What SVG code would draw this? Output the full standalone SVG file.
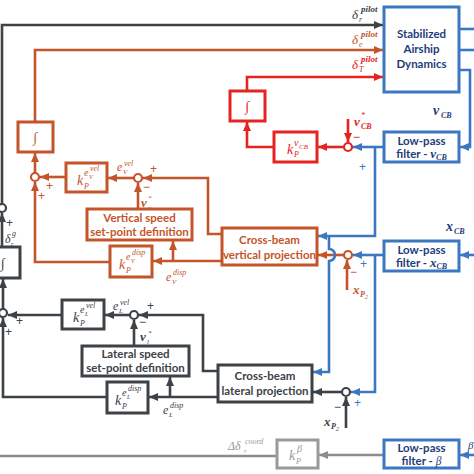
<svg xmlns="http://www.w3.org/2000/svg" width="474" height="474" viewBox="0 0 474 474">
<defs>
<marker id="aD" markerUnits="userSpaceOnUse" markerWidth="9" markerHeight="8" refX="9" refY="4" orient="auto"><path d="M0,0 L9,4 L0,8 z" fill="#3d4247"/></marker>
<marker id="aO" markerUnits="userSpaceOnUse" markerWidth="9" markerHeight="8" refX="9" refY="4" orient="auto"><path d="M0,0 L9,4 L0,8 z" fill="#c4552b"/></marker>
<marker id="aR" markerUnits="userSpaceOnUse" markerWidth="9" markerHeight="8" refX="9" refY="4" orient="auto"><path d="M0,0 L9,4 L0,8 z" fill="#e52421"/></marker>
<marker id="aB" markerUnits="userSpaceOnUse" markerWidth="9" markerHeight="8" refX="9" refY="4" orient="auto"><path d="M0,0 L9,4 L0,8 z" fill="#3c78c2"/></marker>
<marker id="aG" markerUnits="userSpaceOnUse" markerWidth="9" markerHeight="8" refX="9" refY="4" orient="auto"><path d="M0,0 L9,4 L0,8 z" fill="#8c8c8c"/></marker>
</defs>
<style>
.box{fill:#fff;stroke-width:3}
.ln{fill:none;stroke-width:2.6}
.sum{fill:#fff;stroke-width:2.2}
.D{stroke:#3d4247}.O{stroke:#c4552b}.R{stroke:#e52421}.B{stroke:#3c78c2}.G{stroke:#9a9a9a}
.bt{font-family:"Lato","Open Sans",sans-serif;font-weight:bold;font-size:11.5px;text-anchor:middle}
.m{font-family:"Liberation Serif",serif;font-style:italic}
.pl{font-family:"Liberation Sans",sans-serif;font-size:12px}
.tD{fill:#3d4247}.tO{fill:#c4552b}.tR{fill:#e52421}.tB{fill:#1f3d7a}.tBl{fill:#3c78c2}.tG{fill:#9a9a9a}
</style>

<g id="connectors">
<path class="ln D" d="M2,204 V25 H383" marker-end="url(#aD)"/>
<path class="ln D" d="M2,247 V213" marker-end="url(#aD)"/>
<path class="ln D" d="M3,309 V279" marker-end="url(#aD)"/>
<path class="ln D" d="M62,315 H8" marker-end="url(#aD)"/>
<path class="ln D" d="M107,397 H3 V318" marker-end="url(#aD)"/>
<path class="ln D" d="M218,397 H149" marker-end="url(#aD)"/>
<path class="ln D" d="M170,397 V377" marker-end="url(#aD)"/>
<path class="ln D" d="M134,346 V320" marker-end="url(#aD)"/>
<path class="ln D" d="M130,315 H105" marker-end="url(#aD)"/>
<path class="ln D" d="M218,371 H203 V315 H139" marker-end="url(#aD)"/>
<path class="ln D" d="M342,392 H313" marker-end="url(#aD)"/>
<path class="ln D" d="M346,428 V397" marker-end="url(#aD)"/>
<path class="ln O" d="M35,122 V50 H383" marker-end="url(#aO)"/>
<path class="ln O" d="M35,173 V153" marker-end="url(#aO)"/>
<path class="ln O" d="M66,177 H40" marker-end="url(#aO)"/>
<path class="ln O" d="M110,262 H35 V182" marker-end="url(#aO)"/>
<path class="ln O" d="M222,261 H153" marker-end="url(#aO)"/>
<path class="ln O" d="M173,261 V241" marker-end="url(#aO)"/>
<path class="ln O" d="M138,209 V183" marker-end="url(#aO)"/>
<path class="ln O" d="M134,178 H108" marker-end="url(#aO)"/>
<path class="ln O" d="M222,234 H208 V178 H143" marker-end="url(#aO)"/>
<path class="ln O" d="M344,255 H318" marker-end="url(#aO)"/>
<path class="ln O" d="M347,290 V260" marker-end="url(#aO)"/>
<path class="ln R" d="M247,91 V77 H383" marker-end="url(#aR)"/>
<path class="ln R" d="M274,147 H247 V122" marker-end="url(#aR)"/>
<path class="ln R" d="M344,147 H318" marker-end="url(#aR)"/>
<path class="ln R" d="M348,119 V142" marker-end="url(#aR)"/>
<path class="ln B" d="M459,29 H474"/>
<path class="ln B" d="M459,50 H474"/>
<path class="ln B" d="M459,70 H470 V147 H460" marker-end="url(#aB)"/>
<path class="ln B" d="M384,147 H353" marker-end="url(#aB)"/>
<path class="ln B" d="M375,147 V236 H318" marker-end="url(#aB)"/>
<path class="ln B" d="M329,236 V249 A6,6 0 0 1 329,261 V372 H313" marker-end="url(#aB)"/>
<path class="ln B" d="M474,255 H460" marker-end="url(#aB)"/>
<path class="ln B" d="M384,255 H353" marker-end="url(#aB)"/>
<path class="ln B" d="M375,255 V392 H351" marker-end="url(#aB)"/>
<path class="ln B" d="M474,455 H460" marker-end="url(#aB)"/>
<path class="ln" stroke="#8c8c8c" d="M384,455 H319" marker-end="url(#aG)"/>
<path class="ln" stroke="#8c8c8c" d="M277,456 H0"/>
</g>

<g id="sum-rudder"><circle class="sum D" cx="2" cy="208" r="4"/></g>
<g id="sum-lat"><circle class="sum D" cx="3" cy="313" r="4"/></g>
<g id="sum-latvel"><circle class="sum D" cx="134" cy="315" r="4"/></g>
<g id="sum-latdisp"><circle class="sum D" cx="346" cy="392" r="4"/></g>
<g id="sum-vert"><circle class="sum O" cx="35" cy="177" r="4"/></g>
<g id="sum-vertvel"><circle class="sum O" cx="138" cy="178" r="4"/></g>
<g id="sum-vertdisp"><circle class="sum O" cx="348" cy="255" r="4"/></g>
<g id="sum-vcb"><circle class="sum R" cx="348" cy="147" r="4"/></g>

<g id="dynamics">
<rect class="box B" x="384" y="7" width="75" height="85"/>
<text class="bt tB" x="421.5" y="38">Stabilized</text>
<text class="bt tB" x="421.5" y="53">Airship</text>
<text class="bt tB" x="421.5" y="68">Dynamics</text>
</g>
<g id="lpf-vcb">
<rect class="box B" x="384" y="132" width="75" height="30"/>
<text class="bt tB" x="421.5" y="145">Low-pass</text>
<text class="bt tB" x="421.5" y="158">filter - <tspan class="m" font-size="13">v<tspan font-size="8" dy="2">CB</tspan></tspan></text>
</g>
<g id="lpf-xcb">
<rect class="box B" x="384" y="241" width="75" height="30"/>
<text class="bt tB" x="421.5" y="254">Low-pass</text>
<text class="bt tB" x="421.5" y="267">filter - <tspan class="m" font-size="13">x<tspan font-size="8" dy="2">CB</tspan></tspan></text>
</g>
<g id="lpf-beta">
<rect class="box B" x="384" y="440" width="75" height="28"/>
<text class="bt tB" x="421.5" y="452">Low-pass</text>
<text class="bt tB" x="421.5" y="465">filter - <tspan class="m" font-weight="normal">β</tspan></text>
</g>

<g id="int-red">
<rect class="box R" x="230" y="91" width="35" height="30"/>
<text class="m tR" x="247.5" y="111" font-size="14" text-anchor="middle">∫</text>
</g>
<g id="kp-vcb">
<rect class="box R" x="274" y="132" width="43" height="30"/>
<text class="m tR" x="287" y="154" font-size="14">k</text>
<text class="m tR" x="294" y="157" font-size="8">P</text>
<text class="m tR" x="294" y="146" font-size="10">v</text>
<text class="m tR" x="299" y="149" font-size="7">CB</text>
</g>

<g id="int-orange">
<rect class="box O" x="18" y="122" width="35" height="30"/>
<text class="m tO" x="35.5" y="142" font-size="14" text-anchor="middle">∫</text>
</g>
<g id="kp-ev-vel">
<rect class="box O" x="66" y="163" width="41" height="29"/>
<text class="m tO" x="77" y="185" font-size="14">k</text>
<text class="m tO" x="84" y="189" font-size="8">P</text>
<text class="m tO" x="84" y="176" font-size="10">e</text>
<text class="m tO" x="89" y="179" font-size="6">V</text>
<text class="m tO" x="90" y="171" font-size="8">vel</text>
</g>
<g id="kp-ev-disp">
<rect class="box O" x="110" y="246" width="42" height="31"/>
<text class="m tO" x="119" y="269" font-size="14">k</text>
<text class="m tO" x="126" y="273" font-size="8">P</text>
<text class="m tO" x="126" y="260" font-size="10">e</text>
<text class="m tO" x="131" y="263" font-size="6">V</text>
<text class="m tO" x="132" y="255" font-size="8">disp</text>
</g>
<g id="vert-setpoint">
<rect class="box O" x="87" y="209" width="105" height="31"/>
<text class="bt tO" x="139.5" y="222">Vertical speed</text>
<text class="bt tO" x="139.5" y="236">set-point definition</text>
</g>
<g id="vert-proj">
<rect class="box O" x="222" y="228" width="95" height="37"/>
<text class="bt tO" x="269.5" y="244">Cross-beam</text>
<text class="bt tO" x="269.5" y="259">vertical projection</text>
</g>

<g id="int-dark">
<rect class="box D" x="-20" y="247" width="40" height="31"/>
<text class="m tD" x="3" y="268" font-size="14" text-anchor="middle">∫</text>
</g>
<g id="kp-el-vel">
<rect class="box D" x="62" y="300" width="42" height="29"/>
<text class="m tD" x="73" y="322" font-size="14">k</text>
<text class="m tD" x="80" y="326" font-size="8">P</text>
<text class="m tD" x="80" y="313" font-size="10">e</text>
<text class="m tD" x="85" y="316" font-size="6">L</text>
<text class="m tD" x="86" y="308" font-size="8">vel</text>
</g>
<g id="kp-el-disp">
<rect class="box D" x="107" y="382" width="41" height="31"/>
<text class="m tD" x="115" y="405" font-size="14">k</text>
<text class="m tD" x="122" y="409" font-size="8">P</text>
<text class="m tD" x="122" y="396" font-size="10">e</text>
<text class="m tD" x="127" y="399" font-size="6">L</text>
<text class="m tD" x="128" y="391" font-size="8">disp</text>
</g>
<g id="lat-setpoint">
<rect class="box D" x="82" y="346" width="107" height="30"/>
<text class="bt tD" x="135.5" y="358">Lateral speed</text>
<text class="bt tD" x="135.5" y="372">set-point definition</text>
</g>
<g id="lat-proj">
<rect class="box D" x="218" y="365" width="94" height="37"/>
<text class="bt tD" x="265" y="380">Cross-beam</text>
<text class="bt tD" x="265" y="395">lateral projection</text>
</g>

<g id="kp-beta">
<rect class="box G" x="277" y="440" width="41" height="28"/>
<text class="m tG" x="289" y="460" font-size="14">k</text>
<text class="m tG" x="296" y="464" font-size="8">P</text>
<text class="m tG" x="297" y="452" font-size="10">β</text>
</g>

<g id="labels">
<text class="m tD" x="352" y="19" font-size="13">δ</text><text class="m tD" x="359" y="22" font-size="8">r</text><text class="m tD" x="361" y="12" font-size="9" font-weight="bold">pilot</text>
<text class="m tO" x="352" y="44" font-size="13">δ</text><text class="m tO" x="359" y="47" font-size="8">e</text><text class="m tO" x="361" y="37" font-size="9" font-weight="bold">pilot</text>
<text class="m tR" x="352" y="69" font-size="13">δ</text><text class="m tR" x="359" y="72" font-size="8">T</text><text class="m tR" x="361" y="62" font-size="9" font-weight="bold">pilot</text>

<text class="m tB" x="433" y="115" font-size="14" font-weight="bold">v</text><text class="m tB" x="441" y="118" font-size="8" font-weight="bold">CB</text>
<text class="m tB" x="446" y="231" font-size="14" font-weight="bold">x</text><text class="m tB" x="454" y="234" font-size="8" font-weight="bold">CB</text>
<text class="m tB" x="468" y="449" font-size="11">β</text>

<text class="m tR" x="354" y="126" font-size="13" font-weight="bold">v</text><text class="m tR" x="361" y="118" font-size="8">*</text><text class="m tR" x="361" y="129" font-size="8" font-weight="bold">CB</text>
<text class="pl tR" x="353" y="141">−</text>
<text class="pl tBl" x="359" y="171">+</text>

<text class="pl tBl" x="360" y="268">+</text>
<text class="pl tO" x="350" y="276">−</text>
<text class="m tO" x="353" y="294" font-size="13" font-weight="bold">x</text><text class="m tO" x="360" y="297" font-size="8" font-weight="bold">P</text><text class="m tO" x="365" y="299" font-size="6">2</text>

<text class="pl tBl" x="354" y="407">+</text>
<text class="pl tD" x="334" y="411">−</text>
<text class="m tD" x="324" y="426" font-size="13" font-weight="bold">x</text><text class="m tD" x="331" y="429" font-size="8" font-weight="bold">P</text><text class="m tD" x="336" y="431" font-size="6">2</text>

<text class="m tO" x="117" y="171" font-size="12">e</text><text class="m tO" x="123" y="174" font-size="7">V</text><text class="m tO" x="124" y="166" font-size="8">vel</text>
<text class="pl tO" x="150" y="173">+</text>
<text class="pl tO" x="143" y="191">−</text>
<text class="m tO" x="141" y="207" font-size="13" font-weight="bold">v</text><text class="m tO" x="148" y="210" font-size="7">v</text><text class="m tO" x="148" y="200" font-size="7">*</text>
<text class="pl tO" x="46" y="190">+</text>
<text class="pl tO" x="38" y="200">+</text>
<text class="m tO" x="166" y="281" font-size="12">e</text><text class="m tO" x="172" y="284" font-size="7">V</text><text class="m tO" x="173" y="275" font-size="8">disp</text>

<text class="m tD" x="113" y="310" font-size="12">e</text><text class="m tD" x="119" y="313" font-size="7">L</text><text class="m tD" x="120" y="305" font-size="8">vel</text>
<text class="pl tD" x="147" y="310">+</text>
<text class="pl tD" x="139" y="326">−</text>
<text class="m tD" x="140" y="341" font-size="13" font-weight="bold">v</text><text class="m tD" x="147" y="344" font-size="7">l</text><text class="m tD" x="148" y="335" font-size="7">*</text>
<text class="pl tD" x="16" y="325">+</text>
<text class="pl tD" x="5" y="336">+</text>
<text class="m tD" x="163" y="414" font-size="12">e</text><text class="m tD" x="169" y="417" font-size="7">L</text><text class="m tD" x="170" y="408" font-size="8">disp</text>

<text class="pl tD" x="6" y="227">+</text>
<text class="m tD" x="5" y="243" font-size="12">δ</text><text class="m tD" x="11" y="246" font-size="7">r</text><text class="m tD" x="12" y="236" font-size="8">g</text>

<text class="m tG" x="228" y="450" font-size="12">Δδ</text><text class="m tG" x="244" y="453" font-size="7">r</text><text class="m tG" x="245" y="444" font-size="8">coord</text>
</g>
</svg>
